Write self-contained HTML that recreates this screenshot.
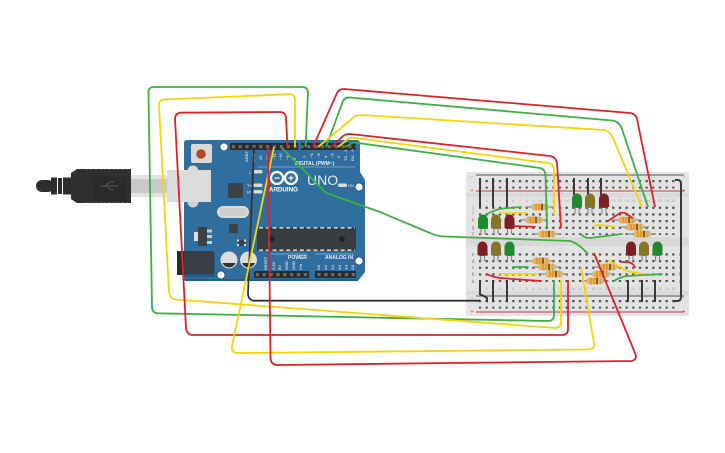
<!DOCTYPE html>
<html>
<head>
<meta charset="utf-8">
<style>
html,body{margin:0;padding:0;background:#fff}
svg{display:block}
text{font-family:"Liberation Sans",sans-serif}
</style>
</head>
<body>
<svg xmlns="http://www.w3.org/2000/svg" width="725" height="453" viewBox="0 0 725 453">
<defs>
<pattern id="h" x="478.9" y="0" width="6.667" height="6.667" patternUnits="userSpaceOnUse">
<rect x="0" y="0" width="2.2" height="2.2" fill="#4a4a4a"/>
</pattern>
<pattern id="p" x="230" y="143" width="6.85" height="7" patternUnits="userSpaceOnUse">
<rect width="6.85" height="7" fill="#2c2c2c"/>
<rect x="1.8" y="2" width="3.2" height="3.2" fill="#6b6b6b"/>
</pattern>
<pattern id="q" x="254" y="271" width="6.85" height="7" patternUnits="userSpaceOnUse">
<rect width="6.85" height="7" fill="#2c2c2c"/>
<rect x="1.8" y="2" width="3.2" height="3.2" fill="#6b6b6b"/>
</pattern>
<g id="r">
<path d="M-14 0H14" stroke="#8a8a8a" stroke-width="1.2"/>
<rect x="-9" y="-3.3" width="18" height="6.6" rx="3.2" fill="#d9b873"/>
<rect x="-5" y="-3.3" width="2" height="6.6" fill="#f7941d"/>
<rect x="-2" y="-3.3" width="2" height="6.6" fill="#f7941d"/>
<rect x="1" y="-3.3" width="2" height="6.6" fill="#8a5a28"/>
<rect x="5" y="-3.3" width="1.2" height="6.6" fill="#c9a24d"/>
</g>
<path id="ld" d="M-5 6V-2A5 5.5 0 0 1 5 -2V6Q0 8 -5 6Z"/>
<g id="nums" font-size="4" fill="#a5a5a5" text-anchor="middle">
<text x="480">1</text><text x="486.7">2</text><text x="493.3">3</text><text x="500">4</text><text x="506.7">5</text><text x="513.3">6</text><text x="520">7</text><text x="526.7">8</text><text x="533.3">9</text><text x="540">10</text><text x="546.7">11</text><text x="553.3">12</text><text x="560">13</text><text x="566.7">14</text><text x="573.3">15</text><text x="580">16</text><text x="586.7">17</text><text x="593.3">18</text><text x="600">19</text><text x="606.7">20</text><text x="613.3">21</text><text x="620">22</text><text x="626.7">23</text><text x="633.3">24</text><text x="640">25</text><text x="646.7">26</text><text x="653.3">27</text><text x="660">28</text><text x="666.7">29</text><text x="673.3">30</text>
</g>
</defs>

<!-- USB cable -->
<rect x="131" y="175" width="37" height="22" fill="#e2e2e2"/>
<rect x="131" y="179" width="37" height="14" fill="#c9c9c9"/>
<rect x="36" y="180" width="18" height="12" rx="6" fill="#2e2e2e"/>
<rect x="51" y="177.5" width="6" height="17" fill="#2e2e2e"/>
<rect x="58" y="178" width="4" height="16" fill="#2e2e2e"/>
<rect x="63" y="177.5" width="9" height="17" fill="#2e2e2e"/>
<path d="M71 173L77 169H131V203H77L71 199Z" fill="#2f2f2f"/>
<rect x="93" y="177" width="33" height="24" fill="#2a2a2a"/>
<path d="M100 186H118M105 186L110 182H114M107 186L111 190H113" stroke="#555" stroke-width="1" fill="none"/>
<path d="M86 169.5H131M86 202.5H131" stroke="#555" stroke-width="1" stroke-dasharray="2 2.5"/>

<!-- Arduino board -->
<path d="M187 140H358L360 142V172L365 180V272L358 281H187Q184 281 184 278V143Q184 140 187 140Z" fill="#2f6e9e"/>
<path d="M184 279H359L358 281H187Q184 281 184 279Z" fill="#265d87"/>
<rect x="230" y="143" width="68" height="7" fill="url(#p)"/>
<rect x="301" y="143" width="55" height="7" fill="url(#p)"/>
<rect x="254" y="271" width="55" height="7" fill="url(#q)"/>
<rect x="315" y="271" width="41" height="7" fill="url(#q)"/>
<circle cx="224" cy="147" r="4" fill="#fff" stroke="#254a66" stroke-width=".8"/>
<circle cx="359" cy="187" r="4" fill="#fff" stroke="#254a66" stroke-width=".8"/>
<circle cx="359" cy="261" r="4" fill="#fff" stroke="#254a66" stroke-width=".8"/>
<circle cx="221" cy="275" r="4" fill="#fff" stroke="#254a66" stroke-width=".8"/>
<!-- reset -->
<rect x="191" y="144" width="21" height="19" rx="2" fill="#d9d9d9"/>
<circle cx="201" cy="154" r="4.8" fill="#b04a2c"/>
<!-- usb socket -->
<circle cx="193" cy="171" r="5.5" fill="#d9d9d9"/>
<circle cx="193" cy="202" r="5.5" fill="#d0d0d0"/>
<rect x="167" y="170" width="44" height="32" fill="#dcdcdc"/>
<!-- parts -->
<rect x="228" y="183" width="15" height="15" rx="1" fill="#3c4247"/>
<rect x="217" y="206" width="32" height="12" rx="6" fill="#dadada"/>
<rect x="219" y="208" width="28" height="8" rx="4" fill="#cfcfcf"/>
<rect x="229" y="224" width="9" height="9" rx="1" fill="#3c4247"/>
<rect x="198" y="227" width="9" height="19" fill="#3c4247"/>
<rect x="194" y="232" width="4" height="9" fill="#ddd"/>
<rect x="207" y="229.500" width="5" height="3" fill="#ccc"/>
<rect x="207" y="235" width="5" height="3" fill="#ccc"/>
<rect x="207" y="241" width="5" height="3" fill="#ccc"/>
<rect x="238" y="240" width="7" height="6" fill="#3c4247"/>
<rect x="237" y="239.500" width="2" height="2" fill="#ddd"/>
<rect x="237" y="244" width="2" height="2" fill="#ddd"/>
<rect x="244" y="239.500" width="2" height="2" fill="#ddd"/>
<rect x="244" y="244" width="2" height="2" fill="#ddd"/>
<!-- jack -->
<rect x="183" y="252" width="32" height="25" rx="2" fill="#275a80"/>
<rect x="177" y="251" width="8" height="24" fill="#2a2a2a"/>
<rect x="184" y="251" width="30" height="23" rx="2" fill="#3a3e42"/>
<!-- caps -->
<circle cx="229" cy="260" r="8.500" fill="#dcdcdc"/>
<path d="M222.500 263H235.500A7 7 0 0 1 222.500 263Z" fill="#333"/>
<circle cx="248.500" cy="260" r="8.500" fill="#dcdcdc"/>
<path d="M242 263H255A7 7 0 0 1 242 263Z" fill="#333"/>
<!-- chip -->
<rect x="257" y="227" width="99" height="24" rx="1" fill="#393d41"/>
<path d="M259 227.800H355M259 250.200H355" stroke="#e8e8e8" stroke-width="1.400" stroke-dasharray="4 2.800"/>
<circle cx="272" cy="239" r="2.800" fill="#222"/>
<circle cx="342" cy="239" r="2.800" fill="#222"/>
<!-- small leds -->
<rect x="253.500" y="170" width="9" height="3.500" rx="1.500" fill="#d8d8d8"/>
<rect x="253.500" y="183.500" width="9" height="3.500" rx="1.500" fill="#d8d8d8"/>
<rect x="253.500" y="190" width="9" height="3.500" rx="1.500" fill="#d8d8d8"/>
<rect x="338" y="183.500" width="9" height="3.500" rx="1.500" fill="#d8d8d8"/>
<g fill="#e6edf3" font-size="4">
<text x="249" y="174">L</text>
<text x="247" y="187">TX</text>
<text x="247" y="193.500">RX</text>
<text x="348" y="187">ON</text>
</g>
<!-- logo -->
<g fill="none" stroke="#fff" stroke-width="2.300">
<circle cx="277" cy="178" r="6"/>
<circle cx="291" cy="178" r="6"/>
</g>
<path d="M274.500 178H279.500M288.500 178H293.500M291 175.500V180.500" stroke="#fff" stroke-width="1.200"/>
<text x="269" y="191.500" fill="#fff" font-size="6.200" font-weight="bold">ARDUINO</text>
<text x="307" y="185" fill="#dfe9f1" font-size="14">UNO</text>
<text x="295" y="165" fill="#e6edf3" font-size="5" font-weight="bold">DIGITAL (PWM~)</text>
<path d="M258 167H355" stroke="#8db0c9" stroke-width=".8"/>
<g fill="#c9d9e5" font-size="4" font-weight="bold">
<text transform="translate(248 162) rotate(-90)">AREF</text>
<text transform="translate(255 162) rotate(-90)">GND</text>
<text transform="translate(262 160) rotate(-90)">13</text>
<text transform="translate(269 160) rotate(-90)">12</text>
<text transform="translate(275.500 160) rotate(-90)">~11</text>
<text transform="translate(282 160) rotate(-90)">~10</text>
<text transform="translate(289 160) rotate(-90)">~9</text>
<text transform="translate(295.500 160) rotate(-90)">8</text>
<text transform="translate(306 158) rotate(-90)">7</text>
<text transform="translate(313 158) rotate(-90)">~6</text>
<text transform="translate(320 158) rotate(-90)">~5</text>
<text transform="translate(327 158) rotate(-90)">4</text>
<text transform="translate(333.500 158) rotate(-90)">~3</text>
<text transform="translate(340 158) rotate(-90)">2</text>
<text transform="translate(347 161) rotate(-90)">TX→1</text>
<text transform="translate(354 161) rotate(-90)">RX←0</text>
<text transform="translate(267 270) rotate(-90)">RESET</text>
<text transform="translate(275 270) rotate(-90)">3.3V</text>
<text transform="translate(281 270) rotate(-90)">5V</text>
<text transform="translate(288 270) rotate(-90)">GND</text>
<text transform="translate(295 270) rotate(-90)">GND</text>
<text transform="translate(302 270) rotate(-90)">Vin</text>
<text transform="translate(320 270) rotate(-90)">A0</text>
<text transform="translate(327 270) rotate(-90)">A1</text>
<text transform="translate(334 270) rotate(-90)">A2</text>
<text transform="translate(341 270) rotate(-90)">A3</text>
<text transform="translate(347.500 270) rotate(-90)">A4</text>
<text transform="translate(354 270) rotate(-90)">A5</text>
</g>
<text x="288" y="259" fill="#e6edf3" font-size="5" font-weight="bold">POWER</text>
<text x="325" y="259" fill="#e6edf3" font-size="5" font-weight="bold">ANALOG IN</text>
<path d="M270 254H307M315 254H354" stroke="#8db0c9" stroke-width=".8"/>

<!-- Breadboard -->
<rect x="466" y="172" width="223" height="144" rx="2" fill="#e3e3e3"/>
<rect x="466" y="193" width="223" height="4" fill="#dadada"/>
<rect x="466" y="291" width="223" height="4" fill="#dadada"/>
<rect x="466" y="237" width="223" height="9" fill="#d8d8d8"/>
<path d="M476 175H684M476 296H684" stroke="#555" stroke-width="1"/>
<path d="M476 191H684M476 312H684" stroke="#b5423f" stroke-width="1"/>
<rect x="478.900" y="179" width="198" height="9.500" fill="url(#h)"/>
<rect x="478.900" y="205.500" width="198" height="29.500" fill="url(#h)"/>
<rect x="478.900" y="252.500" width="198" height="29.500" fill="url(#h)"/>
<rect x="478.900" y="299" width="198" height="9.500" fill="url(#h)"/>
<use href="#nums" y="202"/>
<use href="#nums" y="290"/>
<g font-size="5" fill="#8a8a8a" text-anchor="middle">
<text x="472" y="178">−</text><text x="472" y="192" fill="#b5423f">+</text>
<text x="472" y="299">−</text><text x="472" y="313" fill="#b5423f">+</text>
<text x="684" y="178">−</text><text x="684" y="192" fill="#b5423f">+</text>
<text x="684" y="299">−</text><text x="684" y="313" fill="#b5423f">+</text>
<text x="473" y="209">j</text><text x="473" y="215">i</text><text x="473" y="222">h</text><text x="473" y="229">g</text><text x="473" y="236">f</text>
<text x="473" y="256">e</text><text x="473" y="263">d</text><text x="473" y="269">c</text><text x="473" y="276">b</text><text x="473" y="283">a</text>
<text x="680" y="256">e</text><text x="680" y="263">d</text><text x="680" y="269">c</text><text x="680" y="276">b</text><text x="680" y="283">a</text>
</g>

<!-- rail black wires -->
<g stroke="#3a3a3a" stroke-width="2" fill="none">
<path d="M480 178V207M493 178V207M507 178V207"/>
<path d="M574 178V195M588 178V195M601 178V195"/>
<path d="M480 280V295M493 280V302M507 280V302"/>
<path d="M628 280V302M642 280V302M655 280V302"/>
<path d="M675 180H678Q681 180 681 184V297Q681 301 677 301H673"/>
<path d="M480 295H482L487 298V302"/>
</g>

<!-- LEDs -->
<g stroke="#8a8a8a" stroke-width="1.200">
<path d="M481 229V234M485 229V234M494 229V234M498 229V234M507.500 229V234M511.500 229V234"/>
<path d="M480.500 255V261M484.500 255V261M494 255V261M498 255V261M507.500 255V261M511.500 255V261"/>
<path d="M575 208V214M579 208V214M588 208V214M592 208V214M602 208V214M606 208V214"/>
<path d="M629 256V261M633 256V261M642 256V261M646 256V261M655.500 256V261M659.500 256V261"/>
</g>
<use href="#ld" x="483" y="222" fill="#1f8a2c"/>
<use href="#ld" x="496" y="222" fill="#857526"/>
<use href="#ld" x="509.500" y="222" fill="#7d1f25"/>
<use href="#ld" x="482.500" y="249" fill="#7d1f25"/>
<use href="#ld" x="496" y="249" fill="#857526"/>
<use href="#ld" x="509.500" y="249" fill="#1f8a2c"/>
<use href="#ld" x="577" y="201" fill="#1f8a2c"/>
<use href="#ld" x="590" y="201" fill="#857526"/>
<use href="#ld" x="604" y="201" fill="#7d1f25"/>
<use href="#ld" x="631" y="249" fill="#7d1f25"/>
<use href="#ld" x="644" y="249" fill="#857526"/>
<use href="#ld" x="657.500" y="249" fill="#1f8a2c"/>

<!-- Resistors -->
<use href="#r" x="540" y="207"/>
<use href="#r" x="534" y="220"/>
<use href="#r" x="547" y="234"/>
<use href="#r" x="541" y="261"/>
<use href="#r" x="547" y="267"/>
<use href="#r" x="554" y="274"/>
<use href="#r" x="627" y="220"/>
<use href="#r" x="635" y="227"/>
<use href="#r" x="642" y="234"/>
<use href="#r" x="608" y="267"/>
<use href="#r" x="601" y="274"/>
<use href="#r" x="595" y="281"/>

<!-- short jumpers -->
<g fill="none" stroke-width="1.700" stroke-linecap="round">
<path d="M487 214Q497 209 503 208.500L521 207" stroke="#3cb043"/>
<path d="M500 213H527" stroke="#f5d40b"/>
<path d="M514 226L535 227" stroke="#e02127"/>
<path d="M513 267H528" stroke="#3cb043"/>
<path d="M500 274H537" stroke="#f5d40b"/>
<path d="M487 274Q492 277 500 278L541 281" stroke="#e02127"/>
<path d="M608 221L620 213Q625 211 632 218" stroke="#e02127"/>
<path d="M594 227Q596 224 600 225L615 227" stroke="#f5d40b"/>
<path d="M581 234Q584 238 590 238L622 234" stroke="#3cb043"/>
<path d="M621 262H627Q632 262 635 267" stroke="#e02127"/>
<path d="M608 260Q618 266 625 270Q635 274 650 274" stroke="#f5d40b"/>
<path d="M614 281Q620 277 627 276L662 274" stroke="#3cb043"/>
</g>

<!-- Long wires -->
<g fill="none" stroke-width="1.800" stroke-linejoin="round">
<path d="M254 147L248 293Q248 300 254 300.700H480" stroke="#333"/>
<path d="M305.500 147L308 93Q308 87 302 87H154Q148 87 148.500 93L152 307Q152 313 158 313.300L548 321Q554 321 554 315V280" stroke="#3cb043"/>
<path d="M295 147V100Q295 94 289 94.200L164 99.500Q158.500 100 159 106L169 292Q170 299 176 299.500L555 328Q561 328 561 322V280" stroke="#f5d40b"/>
<path d="M287.500 147L286 118Q285.500 112 280 112L181 112.700Q175 113 175 119L186 328Q187 335 193 335H562Q568 335 568 329V280" stroke="#e02127"/>
<path d="M274 147L232 346Q231 353 238 353L588 349.500Q595 349.500 594 343L581 267" stroke="#f5d40b"/>
<path d="M268 147L270.500 358Q271 365 278 365L631 361Q638 360 635 353L594 253" stroke="#e02127"/>
<path d="M281 147L325 192Q328 194 332 195L380 212L430 233Q436 236 445 236.500L570 241Q578 243 588 254" stroke="#3cb043"/>
<path d="M313 147L337 93Q339 89 344 89L630 113Q636 114 637 119L655 207" stroke="#e02127"/>
<path d="M326 147L343 101Q345 97 350 97.500L612 120.500Q619 121 622 129L648 207" stroke="#3cb043"/>
<path d="M318 147L353 118Q356 115 361 115L604 130Q610 131 613 138L642 207" stroke="#f5d40b"/>
<path d="M332 147L343 136Q346 134 350 134L550 156Q556 157 557 163L561 228" stroke="#e02127"/>
<path d="M338 147L348 139Q351 137 355 138L548 163Q554 164 554 171V215" stroke="#f5d40b"/>
<path d="M345 147L352 143Q354 142 358 143L540 168Q545 169 545.500 175L547 227" stroke="#3cb043"/>
</g>
</svg>
</body>
</html>
